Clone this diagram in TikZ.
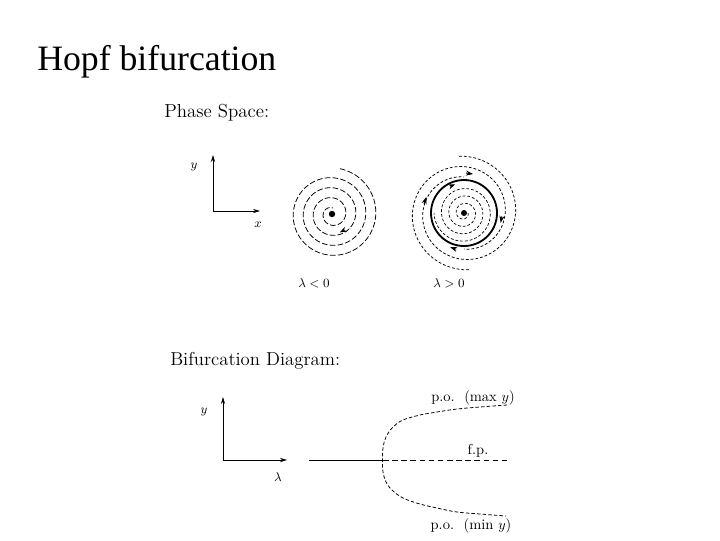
\documentclass[tikz,border=0pt]{standalone}
\usepackage{fontspec}
\newfontfamily\titlefont{Liberation Serif}
\usetikzlibrary{arrows.meta,calc}
\begin{document}
\begin{tikzpicture}[x=0.025cm,y=-0.025cm,
  axis/.style={line width=0.6pt},
  flow/.style={line width=0.55pt,dash pattern=on 4pt off 1.6pt},
  fine/.style={line width=0.5pt,dash pattern=on 2pt off 1.4pt},
  cycle/.style={line width=1.3pt},
  head/.style={-{Stealth[length=5pt,width=3.6pt]},line width=0.6pt},
  lab/.style={inner sep=0pt,font=\fontsize{9.5}{11}\selectfont},
  blab/.style={inner sep=0pt,font=\fontsize{10.3}{12}\selectfont}]
\useasboundingbox (0,0) rectangle (720,540);
% title
\node[anchor=base west,inner sep=0pt,font=\titlefont\fontsize{25.4}{29}\selectfont] (title) at (37,70) {Hopf bifurcation};
% Phase space
\node[anchor=base west,inner sep=0pt,font=\fontsize{13.4}{15}\selectfont] (ps) at (164,117) {Phase Space:};
\coordinate (o1) at (213,211);
\coordinate (y1) at (213,155);
\coordinate (x1) at (260,211);
\draw[axis,{Stealth[length=5pt,width=3pt]}-{Stealth[length=5pt,width=3pt]}] (y1) -- (o1) -- (x1);
\node[lab] (ylab1) at (194,167) {$y$};
\node[lab] (xlab1) at (258,225) {$x$};
% stable focus
\coordinate (c1) at (332,214);
\draw[flow] plot[domain=-80:1360,samples=400,variable=\t]
  ({332+(46-(\t+80)/36)*cos(\t)},{214+(46-(\t+80)/36)*sin(\t)});
\fill (c1) circle (3.2);
\draw[head] ([shift={(57:20)}]c1) -- ([shift={(67:20)}]c1);
\node[lab] (l1) at (314,283) {$\lambda<0$};
% unstable focus with limit cycle
\coordinate (c2) at (464,213);
\fill (c2) circle (3);
\draw[fine] plot[domain=0:1260,samples=450,variable=\t]
  ({464+(4+\t*0.0206)*cos(\t)},{213+(4+\t*0.0206)*sin(\t)});
\draw[cycle] (c2) circle (33);
\draw[fine,line width=0.55pt] plot[domain=-95:270,samples=200,variable=\t]
  ({464+(57-(\t+95)*0.0575)*cos(\t)},{213+(57-(\t+95)*0.0575)*sin(\t)});
\draw[fine,line width=0.55pt] plot[domain=85:450,samples=200,variable=\t]
  ({464+(57-(\t-85)*0.0575)*cos(\t)},{213+(57-(\t-85)*0.0575)*sin(\t)});
\draw[head] ([shift={(-117:30)}]c2) -- ([shift={(-107:30)}]c2);
\draw[head] ([shift={(-87:40)}]c2) -- ([shift={(-77:40)}]c2);
\draw[head] ([shift={(193:41)}]c2) -- ([shift={(203:41)}]c2);
\draw[head] ([shift={(5:38)}]c2) -- ([shift={(15:38)}]c2);
\draw[head] ([shift={(102:37)}]c2) -- ([shift={(112:37)}]c2);
\node[lab] (l2) at (449,283) {$\lambda>0$};
% Bifurcation diagram
\node[anchor=base west,inner sep=0pt,font=\fontsize{13.3}{15}\selectfont] (bd) at (170,365) {Bifurcation Diagram:};
\coordinate (o2) at (223,460);
\coordinate (y2) at (223,397);
\coordinate (x2) at (287,460);
\draw[axis,{Stealth[length=5pt,width=3pt]}-{Stealth[length=5pt,width=3pt]}] (y2) -- (o2) -- (x2);
\node[lab] (ylab2) at (204,412) {$y$};
\node[lab] (xlab2) at (278,477) {$\lambda$};
\coordinate (bs) at (309,460);
\coordinate (bv) at (383,460);
\coordinate (be) at (507,460);
\draw[line width=0.7pt] (bs) -- (bv);
\draw[line width=0.6pt,dash pattern=on 4pt off 2.5pt] (bv) -- (be);
\draw[line width=0.55pt,dash pattern=on 2.5pt off 1.5pt] plot[smooth,tension=0.6] coordinates
  {(507,405) (480,407) (457,409) (437,412) (420,415) (403,420) (393,427) (386,437) (383,448) (382.5,460)
   (383,472) (386,482) (392,490) (403,498) (420,504) (437,508) (457,512) (480,514) (506,516)};
\node[blab] (pomax) at (473,398) {p.o.\ \ (max $y$)};
\node[blab] (fp) at (478,451) {f.p.};
\node[blab] (pomin) at (471,526) {p.o.\ \ (min $y$)};
\end{tikzpicture}
\end{document}
